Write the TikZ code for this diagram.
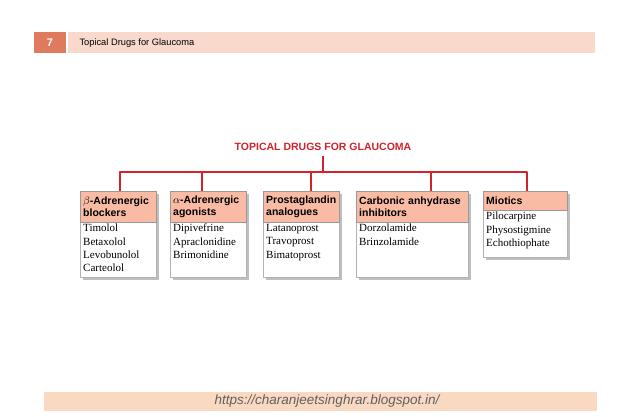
\documentclass[tikz,border=0pt]{standalone}
\usepackage{fontspec}
\setmainfont{Liberation Serif}
\setsansfont{Liberation Sans}
\definecolor{redl}{HTML}{D2232A}
\definecolor{hdr}{HTML}{F9BBA3}
\definecolor{band}{HTML}{F8D9CC}
\definecolor{num}{HTML}{E07A5F}
\definecolor{foot}{HTML}{FAD9C2}
\begin{document}
\begin{tikzpicture}[x=1pt,y=-1pt,
  hbox/.style={draw=gray!80,fill=hdr,anchor=north west,inner xsep=3pt,inner ysep=2.5pt,align=left,font=\sffamily\bfseries\fontsize{10.5}{12.7}\selectfont,minimum height=#1},
  bbox/.style={anchor=north west,inner xsep=3pt,inner ysep=2pt,align=left,font=\fontsize{11}{13.3}\selectfont},
  conn/.style={draw=redl,line width=2pt}]
\useasboundingbox (0,0) rectangle (632,416);
\fill[white] (0,0) rectangle (632,416);
% top header
\fill[num] (34,32) rectangle (66,53);
\node[font=\sffamily\bfseries\fontsize{11}{12}\selectfont,text=white] (n7) at (50,42.5) {7};
\fill[band] (68,32) rectangle (595,53);
\node[font=\sffamily\fontsize{9.3}{10}\selectfont,anchor=west] (ttl) at (76,43) {Topical Drugs for Glaucoma};
% footer
\fill[foot] (44,392) rectangle (597,411);
\node[font=\sffamily\itshape\fontsize{13.5}{14}\selectfont,text=gray!75!black] (url) at (327,401.5) {https://charanjeetsinghrar.blogspot.in/};
% title
\node[font=\sffamily\bfseries\fontsize{10.5}{12}\selectfont,text=redl] (top) at (323,147) {TOPICAL DRUGS FOR GLAUCOMA};
\coordinate (j) at (323,172);
\newcommand{\drugbox}[7]{%
  \fill[gray!50] (#2+3,#3+3) rectangle (#2+#4+3,#6+3);
  \fill[white,draw=gray!60] (#2,#3) rectangle (#2+#4,#6);
  \node[bbox,text width=#4pt-6pt] (#1b) at (#2,#5) {#7};
}
\drugbox{a}{80}{191}{76}{222}{277}{Timolol\\Betaxolol\\Levobunolol\\Carteolol}
\drugbox{b}{170}{191}{76}{222}{277}{Dipivefrine\\Apraclonidine\\Brimonidine}
\drugbox{c}{263}{191}{76}{222}{277}{Latanoprost\\Travoprost\\Bimatoprost}
\drugbox{d}{356}{191}{112}{222}{277}{Dorzolamide\\Brinzolamide}
\drugbox{e}{483}{191}{84}{210}{257}{Pilocarpine\\Physostigmine\\Echothiophate}
\node[hbox=31pt,text width=70pt] (a) at (80,191) {$\beta$-Adrenergic\\blockers};
\node[hbox=31pt,text width=70pt] (b) at (170,191) {$\alpha$-Adrenergic\\agonists};
\node[hbox=31pt,text width=70pt] (c) at (263,191) {Prostaglandin\\analogues};
\node[hbox=31pt,text width=106pt] (d) at (356,191) {Carbonic anhydrase\\inhibitors};
\node[hbox=19pt,text width=78pt] (e) at (483,191) {Miotics};
% connectors
\draw[conn] (top.south) ++(0,2) -- (j);
\draw[conn,line join=round] (a.north -| 120,0) |- (j) -| (e.north -| 527,0);
\draw[conn] (b.north -| 202,0) -- (202,172);
\draw[conn] (c.north -| 311,0) -- (311,172);
\draw[conn] (d.north -| 431,0) -- (431,172);
\end{tikzpicture}
\end{document}
